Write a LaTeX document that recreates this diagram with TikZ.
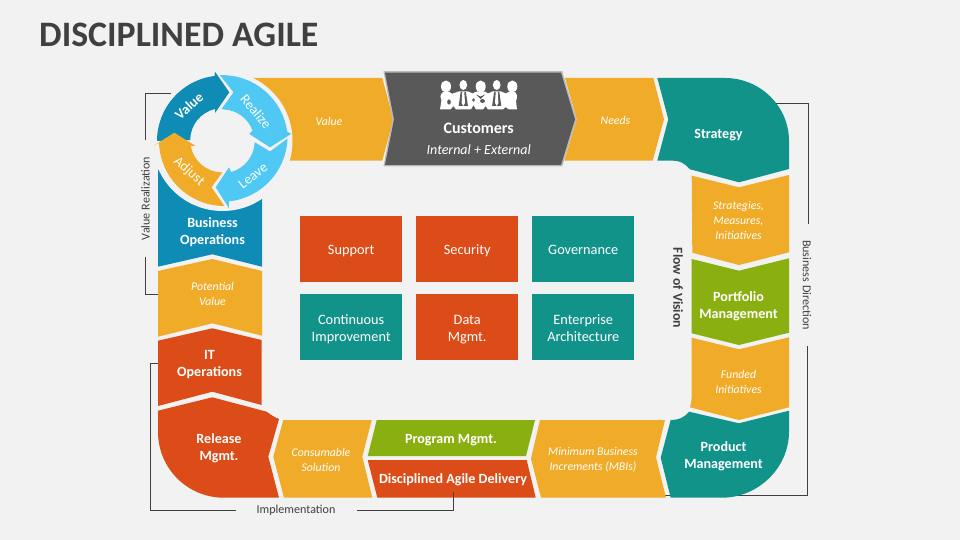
\documentclass[tikz,border=0pt]{standalone}
\usepackage{fontspec}
\setmainfont{Carlito}
\usetikzlibrary{calc}
\definecolor{bgc}{HTML}{F2F2F2}
\definecolor{orangec}{HTML}{F0AB28}
\definecolor{tealc}{HTML}{12938A}
\definecolor{redc}{HTML}{DC4C18}
\definecolor{greenc}{HTML}{8AAF10}
\definecolor{bluec}{HTML}{0F8CB5}
\definecolor{skyc}{HTML}{4FC9F3}
\definecolor{grayc}{HTML}{595959}
\definecolor{linec}{HTML}{404040}
\newcommand{\st}{\vphantom{Ag}}
\tikzset{
  lab/.style={text=white,font=\fontsize{14.1}{17}\selectfont\bfseries,align=center,inner sep=0pt,yshift=-1pt},
  ital/.style={text=white,font=\fontsize{11.8}{15}\selectfont\itshape,align=center,inner sep=0pt,yshift=-1pt},
  ringlab/.style={text=white,font=\fontsize{14}{17}\selectfont,inner sep=0pt},
  sidelab/.style={text=linec,font=\fontsize{12.1}{14}\selectfont,inner sep=0pt},
  conn/.style={draw=linec,line width=0.8pt},
  box/.style={minimum width=102pt,minimum height=66pt,inner sep=0pt,anchor=north west},
  boxtxt/.style={inner sep=0pt,text=white,font=\fontsize{14.3}{17}\selectfont,align=center},
}
\begin{document}
\begin{tikzpicture}[x=1pt,y=-1pt]
\useasboundingbox (0,0) rectangle (960,540);
\fill[bgc] (0,0) rectangle (960,540);
\node[anchor=west,inner sep=0pt,text=linec,font=\fontsize{35.8}{40}\selectfont\bfseries] (title) at (39,35) {DISCIPLINED AGILE};

% connector ends
\coordinate (vrA) at (145,140);
\coordinate (vrB) at (145,93.3);
\coordinate (vrC) at (273,93.3);
\coordinate (vrD) at (145,257);
\coordinate (vrE) at (145,294);
\coordinate (vrF) at (158,294);
\coordinate (bdA) at (773,103);
\coordinate (bdB) at (808,103);
\coordinate (bdC) at (808,224);
\coordinate (bdD) at (807.5,346);
\coordinate (bdE) at (807.5,495);
\coordinate (bdF) at (665,495);
\coordinate (imA) at (158,363.3);
\coordinate (imB) at (150,363.3);
\coordinate (imC) at (150,510.7);
\coordinate (imD) at (236,510.7);
\coordinate (imE) at (357,510.7);
\coordinate (imF) at (453.7,510.7);
\coordinate (imG) at (453.7,491.7);
\draw[conn] (vrA)--(vrB)--(vrC);
\draw[conn] (vrD)--(vrE)--(vrF);
\draw[conn] (bdA)--(bdB)--(bdC);
\draw[conn] (bdD)--(bdE)--(bdF);

% top band
\fill[orangec] (250,78)--(382.3,78)--(393.3,119.3)--(382.3,160.7)--(280,160.7)--(280,120)--cycle;
\fill[orangec] (565,78)--(653.3,78)--(664,119.3)--(652.7,160.7)--(564.3,160.7)--(576.7,119.3)--cycle;
% customers
\fill[gray!55] (383.5,71.2)--(562.2,71.2)--(576.6,119.3)--(562.2,166.5)--(383.5,166.5)--(392.3,119.3)--cycle;
\fill[grayc] (385,72.7)--(561,72.7)--(575,119.3)--(561,165)--(385,165)--(394,119.3)--cycle;
% icon: five figures
\fill[white] (446,86.5) ellipse [x radius=5pt,y radius=6pt];
\fill[white] (463.3,85) ellipse [x radius=3.8pt,y radius=5pt];
\fill[white] (480.7,86.5) ellipse [x radius=5pt,y radius=6pt];
\fill[white] (496.7,85) ellipse [x radius=3.8pt,y radius=5pt];
\fill[white] (512.3,86.5) ellipse [x radius=5pt,y radius=6pt];
\fill[white] (440,109.5)--(441.5,100) .. controls (439,96) and (441,92) .. (446,91)
  .. controls (451,92) and (453,95) .. (453,93.5)--(458.5,91.5)--(468,91.5)--(473,93.5)
  .. controls (474,92) and (478,91) .. (481,91) .. controls (484,91) and (487,92) .. (488,93.5)
  --(492.5,91.5)--(501,91.5)--(506,93.5) .. controls (508,91) and (511,91) .. (513,91)
  .. controls (517,92) and (518,97) .. (516,101)--(517,109.5)--(509,109.5)--(505.5,107)--(503,109.5)
  --(488,109.5)--(485.5,106)--(483,109.5)--(476,109.5)--(473.5,105)--(471,109.5)--(456,109.5)--(453.5,106)--(450.5,109.5)--cycle;
\foreach \tx in {463.3,496.7}{
  \fill[grayc] (\tx-2.6,92)--(\tx+2.6,92)--(\tx+4.6,106)--(\tx-4.6,106)--cycle;
  \fill[white] (\tx-1,92)--(\tx+1,92)--(\tx+1.7,103)--(\tx,106)--(\tx-1.7,103)--cycle;
}
\fill[grayc] (482.5,101) ellipse [x radius=2.4pt,y radius=2pt];
\fill[grayc] (449,102) ellipse [x radius=1.8pt,y radius=2.6pt];
\fill[grayc] (473.5,100) ellipse [x radius=1.4pt,y radius=1.8pt];
\fill[grayc] (476,94.5) -- (480.5,99) -- (485,94.5) -- (480.5,96.5) -- cycle;
\node[lab,font=\fontsize{16}{18}\selectfont\bfseries] (cust) at (478.7,128.5) {\st Customers};
\node[ital,font=\fontsize{14}{16}\selectfont\itshape] (custsub) at (478.7,149.8) {\st Internal + External};
\node[ital] (valtxt) at (329,121) {\st Value};
\node[ital] (needs) at (615.5,120) {\st Needs};

% right band
\fill[tealc] (657.3,78)--(725,78) .. controls (760,78) and (789,106) .. (789,141)
  --(789,169)--(739,182.3)--(690,169.3) .. controls (684,163) and (680,160.7) .. (673,160.7)--(657.3,160.7)--(668.3,119.3)--cycle;
\fill[orangec] (691.7,175.7)--(739,187.3)--(789,175)--(789,252.3)--(739,265)--(692.3,252.7)--cycle;
\fill[greenc] (691.7,259)--(739,270.7)--(789,258.3)--(789,332.7)--(739,345)--(691.7,333.3)--cycle;
\fill[orangec] (691.7,337.7)--(739,349.3)--(789,337.3)--(789,407.3)--(739,420)--(690,407.3) .. controls (691,403) and (691.7,400) .. (691.7,396.7)--cycle;
\fill[tealc] (689,411.7)--(739,423.3)--(789,410.7)--(789,431.7) .. controls (789,468) and (758,497.7) .. (722,497.7)
  --(670.7,497.7)--(660.7,457.7)--(670.7,420) .. controls (678,420) and (684,418) .. (689,411.7)--cycle;
\node[lab] (strategy) at (718.5,134) {\st Strategy};
\node[ital] (smi) at (738.5,220.5) {\st Strategies,\\Measures,\\Initiatives\st};
\node[lab] (portfolio) at (738.5,305) {\st Portfolio\\Management\st};
\node[ital] (funded) at (738.5,381.5) {\st Funded\\Initiatives\st};
\node[lab] (product) at (723.5,455.5) {\st Product\\Management\st};

% bottom band
\fill[orangec] (540,420)--(665,420)--(656,457.3)--(666,497.7)--(541,497.7)--(531,458.7)--cycle;
\fill[greenc] (376.7,420)--(535,420)--(526,456)--(367.7,456)--cycle;
\fill[redc] (367.7,460)--(526.7,460)--(535.7,497.7)--(377.3,497.7)--cycle;
\fill[orangec] (283.3,420)--(371.7,420)--(362.3,456.7)--(372.3,497.7)--(284,497.7)--(273.3,456.7)--cycle;
\fill[redc] (158,410.7)--(212.3,397.3)--(266.7,411.7) .. controls (271,415) and (275,417.5) .. (279,419)--(268.3,456.7)--(279,497.7)--(224,497.7)
  .. controls (187,497.7) and (158,468) .. (158,431.7)--cycle;
\node[ital] (mbi) at (593,458.5) {\st Minimum Business\\Increments (MBIs)\st};
\node[lab] (program) at (451,439.5) {\st Program Mgmt.};
\node[lab] (dad) at (453,479) {\st Disciplined Agile Delivery};
\node[ital] (consum) at (321,459.5) {\st Consumable\\Solution\st};
\node[lab] (release) at (219,447) {\st Release\\Mgmt.\st};

% left band
\fill[redc] (158,340.7)--(212.3,328.3)--(261.7,340)--(261.7,405)--(212.3,391.7)--(158,406)--cycle;
\fill[orangec] (158,271)--(212.3,259)--(262,271)--(262,335.7)--(212.3,323.3)--(158,336.7)--cycle;
\fill[bluec] (158,170)--(262,170)--(262,266.7)--(212.3,254.3)--(158,266.7)--cycle;
\node[lab] (itops) at (209.5,364) {\st IT\\Operations\st};
\node[ital] (potential) at (212.5,293.5) {\st Potential\\Value\st};
\node[lab] (bizops) at (212.5,231) {\st Business\\Operations\st};

% ring
\coordinate (c) at (222.5,141);
\fill[bgc] (c) circle (70pt);
% Value
\fill[bluec] (c) ++(180:65.5pt) arc[start angle=180,end angle=97,radius=65.5pt]
  --(215,71.7)--(229.3,92.3)--(215,113)--(215,109)
  arc[start angle=103,end angle=180,radius=32pt]--cycle;
% Realize
\fill[skyc] (220,75.2) arc[start angle=92,end angle=8,radius=65.5pt]
  --(291,134)--(270,147.3)--(249.3,134)--(252.5,130.5)
  arc[start angle=20,end angle=88,radius=32pt]--(221.7,108.8)--(233.5,92.3)--cycle;
% Leave
\fill[skyc] (287.5,138.5) arc[start angle=-2,end angle=-84,radius=65.5pt]
  --(229,208.3)--(215.7,187.3)--(229,167.3)--(231,172)
  arc[start angle=-75,end angle=-2,radius=32pt]--(270,151.5)--cycle;
% Adjust
\fill[orangec] (224.5,206) arc[start angle=-90,end angle=-178,radius=65.5pt]
  --(153.3,146)--(174.3,132.7)--(195.7,146)--(190.8,146)
  arc[start angle=-170,end angle=-90,radius=32pt]--(211.5,187.3)--cycle;
\node[ringlab,rotate=42] (rv) at (189,105.7) {\bfseries Value};
\node[ringlab,rotate=-50] (rr) at (256,111.7) {Realize};
\node[ringlab,rotate=38] (rl) at (253,175.7) {Leave};
\node[ringlab,rotate=-42] (ra) at (189,171.7) {Adjust};

% central boxes
\node[box,fill=redc] (support) at (300,216) {};
\node[box,fill=redc] (security) at (416,216) {};
\node[box,fill=tealc] (gov) at (532,216) {};
\node[box,fill=tealc] (ci) at (300,294) {};
\node[box,fill=redc] (data) at (416,294) {};
\node[box,fill=tealc] (ea) at (532,294) {};
\node[boxtxt] (supportT) at ($(support.center)+(0,1.5)$) {\st Support};
\node[boxtxt] (securityT) at ($(security.center)+(0,1.5)$) {\st Security};
\node[boxtxt] (govT) at ($(gov.center)+(0,1.5)$) {\st Governance};
\node[boxtxt] (ciT) at ($(ci.center)+(0,2.5)$) {\st Continuous\\Improvement\st};
\node[boxtxt] (dataT) at ($(data.center)+(0,2.5)$) {\st Data\\Mgmt.\st};
\node[boxtxt] (eaT) at ($(ea.center)+(0,2.5)$) {\st Enterprise\\Architecture\st};

\node[rotate=-90,text=linec,inner sep=0pt,font=\fontsize{13.7}{15}\selectfont\bfseries] (fov) at (678,288) {Flow of Vision};
\node[rotate=-90,sidelab] (bd) at (807,285) {Business Direction};
\node[rotate=90,sidelab] (vr) at (145.5,198.5) {Value Realization};
\node[sidelab] (impl) at (296,510) {Implementation};
\draw[conn] (imA)--(imB)--(imC)--(imD);
\draw[conn] (imE)--(imF)--(imG);
\end{tikzpicture}
\end{document}
